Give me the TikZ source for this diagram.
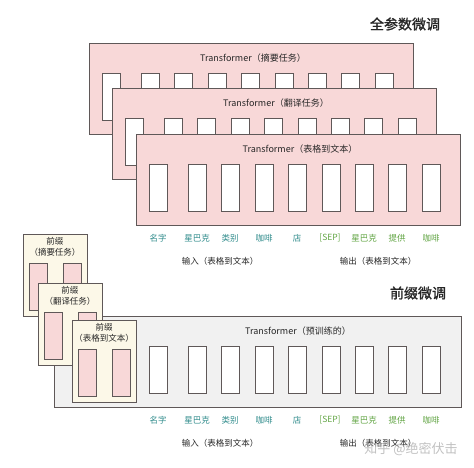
\documentclass[tikz,border=0pt]{standalone}
\usepackage{fontspec}
\setmainfont{Noto Sans CJK SC}
\newfontfamily\sectfont[FakeBold=1.2]{Noto Sans CJK SC}
\definecolor{pinkf}{RGB}{248,216,216}
\definecolor{edge}{RGB}{95,88,88}
\definecolor{cream}{RGB}{252,248,232}
\definecolor{grayf}{RGB}{241,241,241}
\definecolor{tealt}{RGB}{48,140,140}
\definecolor{greent}{RGB}{98,165,68}
\tikzset{
  layerbox/.style={draw=edge, fill=pinkf, line width=0.9pt, anchor=north west, minimum width=324pt, minimum height=91pt, inner sep=0pt},
  graybox/.style={draw=edge, fill=grayf, line width=0.9pt, anchor=north west, minimum width=407pt, minimum height=91pt, inner sep=0pt},
  tok/.style={draw=edge, fill=white, line width=0.9pt, anchor=north west, minimum width=18pt, minimum height=47pt, inner sep=0pt},
  pinktok/.style={tok, fill=pinkf},
  prefbox/.style={draw=edge, fill=cream, line width=0.9pt, anchor=north west, minimum width=64pt, minimum height=82pt, inner sep=0pt},
  ttl/.style={font=\fontsize{9}{11}\selectfont, text=black!85, inner sep=0pt},
  preftxt/.style={font=\fontsize{8.5}{11}\selectfont, text=black!85, align=center, inner sep=0pt, anchor=north},
  lbl/.style={font=\fontsize{8.5}{10}\selectfont, inner sep=0pt},
  inlbl/.style={lbl, text=tealt},
  outlbl/.style={lbl, text=greent},
  iolbl/.style={font=\fontsize{8.5}{10}\selectfont, text=black!85, inner sep=0pt},
  section/.style={font=\fontsize{14}{16}\sectfont, text=black!85, inner sep=0pt},
}
\newcommand\tlayer[4]{%
  \node[layerbox] (#1) at (#2,#3) {};
  \node[ttl] (#1t) at ({#2+164},{#3+15}) {#4};
  \node[tok] (#1b0) at ({#2+13},{#3+30}) {};
  \foreach \k in {1,...,8} {\node[tok] (#1b\k) at ({#2+52+33.4*(\k-1)},{#3+30}) {};}
}
\newcommand\pfx[4]{%
  \node[prefbox] (#1) at (#2,#3) {};
  \node[preftxt] (#1t) at ({#2+32},{#3+3}) {前缀\\#4};
  \node[pinktok] (#1a) at ({#2+6},{#3+29}) {};
  \node[pinktok] (#1b) at ({#2+40},{#3+29}) {};
}
\newcommand\toklabels[2]{%
  \node[inlbl] (#1l0) at (158,#2) {名字};
  \node[inlbl] (#1l1) at (197,#2) {星巴克};
  \node[inlbl] (#1l2) at (230,#2) {类别};
  \node[inlbl] (#1l3) at (264,#2) {咖啡};
  \node[inlbl] (#1l4) at (297,#2) {店};
  \node[outlbl] (#1l5) at (330,#2) {[SEP]};
  \node[outlbl] (#1l6) at (364,#2) {星巴克};
  \node[outlbl] (#1l7) at (397,#2) {提供};
  \node[outlbl] (#1l8) at (431,#2) {咖啡};
}
\begin{document}
\begin{tikzpicture}[x=1pt,y=-1pt]
\useasboundingbox[fill=white] (0,0) rectangle (474,467);
% full fine-tuning
\node[section] (full) at (405,24) {全参数微调};
\tlayer{la}{89}{43}{Transformer（摘要任务）}
\tlayer{lb}{112}{88}{Transformer（翻译任务）}
\tlayer{lc}{136}{134}{Transformer（表格到文本）}
\toklabels{t}{238}
\node[iolbl] (tin) at (220,261) {输入（表格到文本）};
\node[iolbl] (tout) at (378,261) {输出（表格到文本）};
% prefix tuning
\node[section] (pref) at (418,293) {前缀微调};
\node[graybox] (g) at (54,316) {};
\node[ttl] (gt) at (298,331) {Transformer（预训练的）};
\node[tok] (gb0) at (149,346) {};
\foreach \k in {1,...,8} {\node[tok] (gb\k) at ({188+33.4*(\k-1)},346) {};}
\pfx{pa}{23}{234}{（摘要任务）}
\pfx{pb}{38}{283}{（翻译任务）}
\pfx{pc}{72}{320}{（表格到文本）}
\toklabels{b}{420}
\node[iolbl] (bin) at (220,443) {输入（表格到文本）};
\node[iolbl] (bout) at (378,443) {输出（表格到文本）};
\node[font=\fontsize{13}{15}\selectfont, text=black!30, opacity=0.8, inner sep=0pt] (wm) at (411,449) {知乎 @绝密伏击};
\end{tikzpicture}
\end{document}
